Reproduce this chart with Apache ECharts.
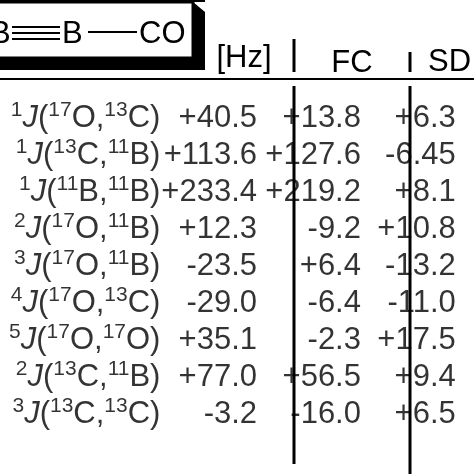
<!DOCTYPE html>
<html><head><meta charset="utf-8">
<script src="https://cdn.jsdelivr.net/npm/echarts@6/dist/echarts.min.js"></script>
<style>html,body{margin:0;padding:0;background:#fff}#c{width:474px;height:474px}</style>
</head><body><div id="c"></div>
<script>
const couplings = ['{s|1}{i|J}({s|17}O,{s|13}C)','{s|1}{i|J}({s|13}C,{s|11}B)','{s|1}{i|J}({s|11}B,{s|11}B)','{s|2}{i|J}({s|17}O,{s|11}B)','{s|3}{i|J}({s|17}O,{s|11}B)','{s|4}{i|J}({s|17}O,{s|13}C)','{s|5}{i|J}({s|17}O,{s|17}O)','{s|2}{i|J}({s|13}C,{s|11}B)','{s|3}{i|J}({s|13}C,{s|13}C)'];
const totalHz = ['+40.5','+113.6','+233.4','+12.3','-23.5','-29.0','+35.1','+77.0','-3.2'];
const fcValues = ['+13.8','+127.6','+219.2','-9.2','+6.4','-6.4','-2.3','+56.5','-16.0'];
const sdValues = ['+6.3','-6.45','+8.1','+10.8','-13.2','-11.0','+17.5','+9.4','+6.5'];
const headers = ['[Hz]','FC','SD'];

const colX = [176, 282, 396, 500];
const rows = couplings.map((_, i) => 'r' + i);
const font = 'Liberation Sans, Arial, sans-serif';
const rich = {
  s: {fontSize: 21, padding: [0,0,15,0], fontFamily: font, color:'#000'},
  i: {fontSize: 31, fontStyle: 'italic', fontFamily: font, color:'#000'}
};
function col(x, texts) {
  return {
    type: 'scatter', symbolSize: 0, silent: true, clip: false,
    data: texts.map((t, i) => ({value: [x, rows[i]], txt: t})),
    label: {show: true, position: 'left', distance: 0, align: 'right', verticalAlign: 'middle',
      formatter: p => p.data.txt, fontSize: 31, fontFamily: font, color: '#000', rich: rich}
  };
}
const chart = echarts.init(document.getElementById('c'));
chart.setOption({
  animation: false,
  grid: {left: 0, right: -46, top: 99.5, bottom: 41.5},
  xAxis: {type: 'value', min: 0, max: 520, show: false},
  yAxis: {type: 'category', data: rows, inverse: true, show: false},
  series: [col(colX[0], couplings), col(colX[1], totalHz), col(colX[2], fcValues), col(colX[3], sdValues)],
  graphic: [
    {type:'rect', shape:{x:-20,y:-10,width:225,height:80}, style:{fill:'#000'}},
    {type:'polygon', shape:{points:[[193,2],[205,12],[205,2]]}, style:{fill:'#fff'}},
    {type:'rect', shape:{x:-20,y:2,width:213,height:56}, style:{fill:'#fff',stroke:'#000',lineWidth:3}},
    {type:'text', style:{x:-10,y:34,text:'B',font:'31px '+font,verticalAlign:'middle',fill:'#000'}},
    {type:'line', shape:{x1:12,y1:27,x2:60,y2:27}, style:{stroke:'#000',lineWidth:2}},
    {type:'line', shape:{x1:12,y1:33,x2:60,y2:33}, style:{stroke:'#000',lineWidth:2}},
    {type:'line', shape:{x1:12,y1:39,x2:60,y2:39}, style:{stroke:'#000',lineWidth:2}},
    {type:'text', style:{x:62,y:34,text:'B',font:'31px '+font,verticalAlign:'middle',fill:'#000'}},
    {type:'line', shape:{x1:88,y1:32,x2:137,y2:32}, style:{stroke:'#000',lineWidth:2}},
    {type:'text', style:{x:139,y:34,text:'CO',font:'31px '+font,verticalAlign:'middle',fill:'#000'}},
    {type:'text', style:{x:244,y:58,text:headers[0],font:'31px '+font,align:'center',verticalAlign:'middle',fill:'#000'}},
    {type:'text', style:{x:352,y:63,text:headers[1],font:'31px '+font,align:'center',verticalAlign:'middle',fill:'#000'}},
    {type:'text', style:{x:428,y:62,text:headers[2],font:'31px '+font,verticalAlign:'middle',fill:'#000'}},
    {type:'line', shape:{x1:0,y1:79,x2:474,y2:79}, style:{stroke:'#000',lineWidth:2}},
    {type:'line', shape:{x1:294,y1:39,x2:294,y2:72}, style:{stroke:'#000',lineWidth:3}},
    {type:'line', shape:{x1:410,y1:52,x2:410,y2:72}, style:{stroke:'#000',lineWidth:3}},
    {type:'line', shape:{x1:294,y1:86,x2:294,y2:464}, style:{stroke:'#000',lineWidth:3}},
    {type:'line', shape:{x1:410,y1:86,x2:410,y2:474}, style:{stroke:'#000',lineWidth:3}}
  ]
});
</script></body></html>
